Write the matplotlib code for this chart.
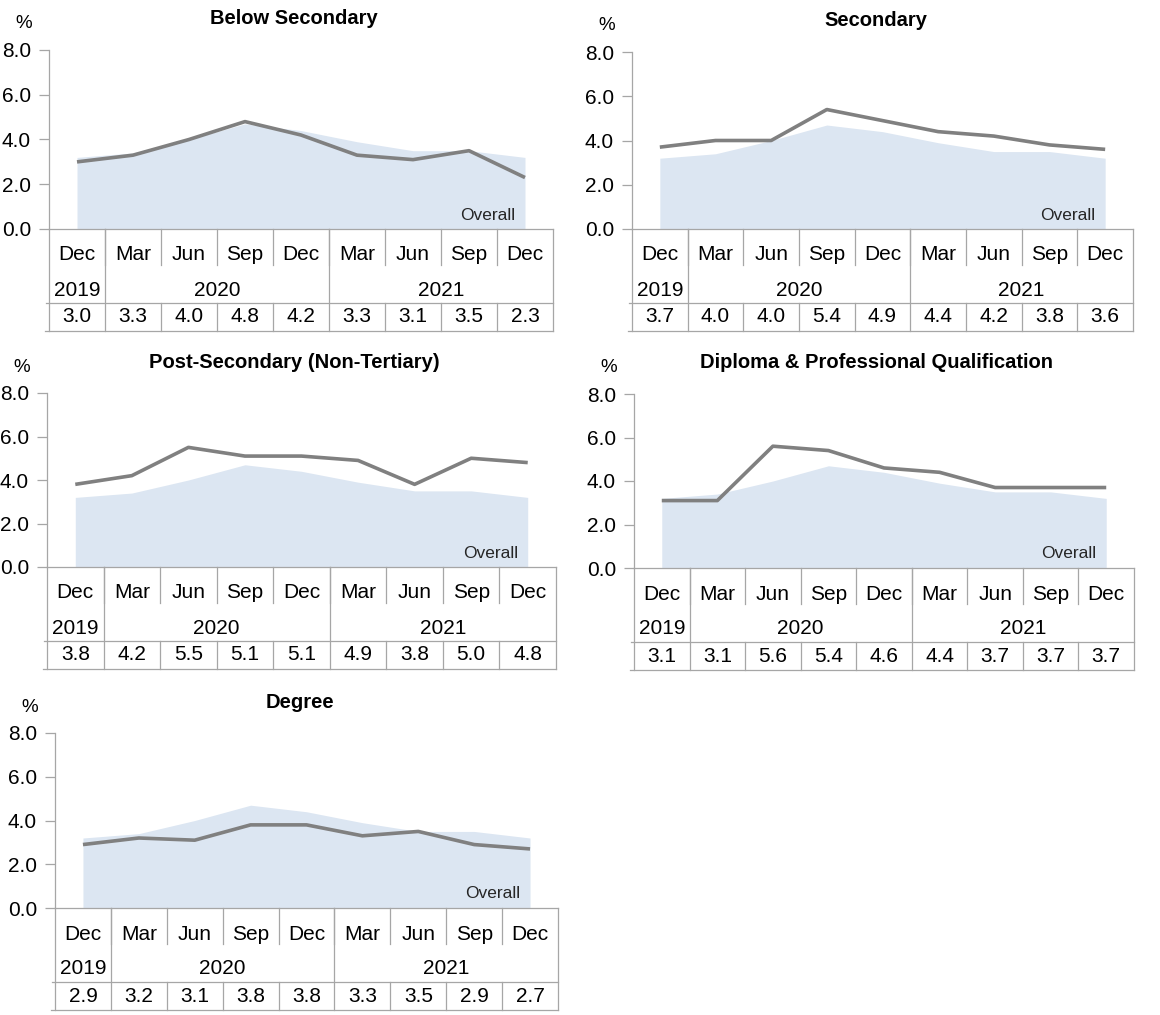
import matplotlib
matplotlib.use("Agg")
import matplotlib.pyplot as plt

plt.rcParams['font.family'] = ['Liberation Sans', 'DejaVu Sans']

months = ["Dec", "Mar", "Jun", "Sep", "Dec", "Mar", "Jun", "Sep", "Dec"]
years = ["2019", "2020", "2021"]
overall = [3.2, 3.4, 4.0, 4.7, 4.4, 3.9, 3.5, 3.5, 3.2]

titles = ["Below Secondary", "Secondary", "Post-Secondary (Non-Tertiary)",
          "Diploma & Professional Qualification", "Degree"]
below_secondary = [3.0, 3.3, 4.0, 4.8, 4.2, 3.3, 3.1, 3.5, 2.3]
secondary = [3.7, 4.0, 4.0, 5.4, 4.9, 4.4, 4.2, 3.8, 3.6]
post_secondary = [3.8, 4.2, 5.5, 5.1, 5.1, 4.9, 3.8, 5.0, 4.8]
diploma = [3.1, 3.1, 5.6, 5.4, 4.6, 4.4, 3.7, 3.7, 3.7]
degree = [2.9, 3.2, 3.1, 3.8, 3.8, 3.3, 3.5, 2.9, 2.7]
series = [below_secondary, secondary, post_secondary, diploma, degree]

W, H = 1160, 1015
# panel boxes in pixels: left, right, y of 8.0, y of 0.0
boxes = [(49, 553, 50, 229), (632, 1133, 52, 229),
         (47, 556, 393, 567), (634, 1134, 394, 568),
         (55, 558, 733, 908)]

grid_grey = "#a6a6a6"
area_col = "#dce6f2"
fs = 15

fig = plt.figure(figsize=(W / 100, H / 100), dpi=100)

for k in range(5):
    L, R, yt, yb = boxes[k]
    ax = fig.add_axes([L / W, 1 - yb / H, (R - L) / W, (yb - yt) / H])
    n = len(months)
    xs = [i + 0.5 for i in range(n)]
    ax.fill_between(xs, 0, overall, color=area_col, lw=0, zorder=1)
    ax.plot(xs, series[k], color="#808080", lw=2.6, zorder=3,
            solid_joinstyle="round", solid_capstyle="butt")
    ax.set_xlim(0, n)
    ax.set_ylim(0, 8)
    ax.set_yticks([0, 2, 4, 6, 8])
    ax.set_yticklabels(["%.1f" % v for v in [0, 2, 4, 6, 8]], fontsize=fs)
    ax.set_xticks([])
    ax.tick_params(axis="y", length=7, width=0.9, color=grid_grey, pad=6)
    for s in ["top", "right"]:
        ax.spines[s].set_visible(False)
    for s in ["left", "bottom"]:
        ax.spines[s].set_color(grid_grey)
        ax.spines[s].set_linewidth(0.9)

    # pixel offset below the axis -> data y
    pu = 8.0 / (yb - yt)
    cw = (R - L) / n

    def py(off):
        return -off * pu

    def px(off):
        return off / cw

    kw = dict(color=grid_grey, lw=0.9, clip_on=False, zorder=2)
    # month separators
    for i in range(1, n):
        ax.plot([i, i], [0, py(36)], **kw)
    # full-height edges and year separators
    for i in [0, 1, 5, n]:
        ax.plot([i, i], [0, py(102)], **kw)
    # value row
    ax.plot([px(-3), n], [py(74), py(74)], **kw)
    ax.plot([px(-4), n], [py(102), py(102)], **kw)
    for i in range(2, n):
        if i != 5:
            ax.plot([i, i], [py(74), py(102)], **kw)

    for i in range(n):
        ax.text(xs[i], py(26), months[i], ha="center", va="center", fontsize=fs)
        ax.text(xs[i], py(88), "%.1f" % series[k][i], ha="center", va="center",
                fontsize=fs)
    ax.text(0.5, py(61), years[0], ha="center", va="center", fontsize=fs)
    ax.text(3.0, py(61), years[1], ha="center", va="center", fontsize=fs)
    ax.text(7.0, py(61), years[2], ha="center", va="center", fontsize=fs)

    ax.text(n - px(38), py(-14), "Overall", ha="right", va="center",
            fontsize=12.5, color="#262626")
    ax.text(-px(25), 8 + 26 * pu, "%", ha="center", va="center", fontsize=13.5,
            clip_on=False)
    ax.text((n / 2) - px(7), 8 + 31 * pu, titles[k], ha="center", va="center",
            fontsize=14.5, fontweight="bold", clip_on=False)

fig.savefig("out.png", dpi=100)
